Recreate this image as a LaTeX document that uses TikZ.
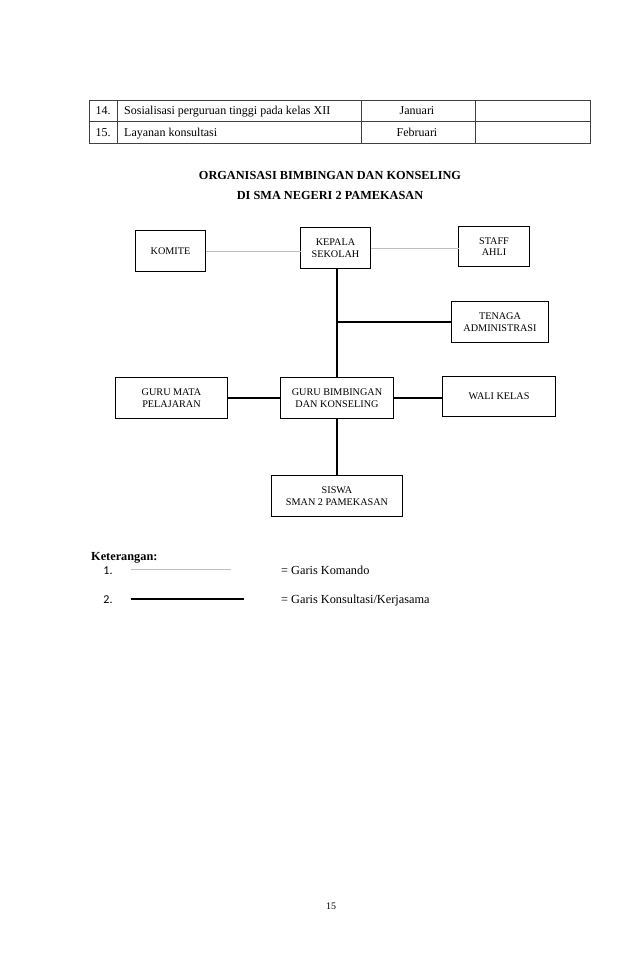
\documentclass[tikz,border=0pt]{standalone}
\usepackage{fontspec}
\setmainfont{Liberation Serif}
\newfontfamily\calibri{Carlito}
\usetikzlibrary{calc,positioning}
\newdimen\hdim
\hdim=41pt
\tikzstyle{box}=[
  draw=black,
  font={\fontsize{10.2}{11.6}\selectfont},
  inner sep=0pt,
  minimum height=\hdim,
  outer sep=0pt,
  rectangle,
  align=center,
  line width=1pt,
]
\tikzstyle{komando}=[
  draw=black!25,
  line width=1pt,
]
\tikzstyle{konsultasi}=[
  draw=black,
  line width=2pt,
]
\tikzstyle{grid}=[
  draw=black!75,
  line width=1pt,
]
\tikzstyle{cell}=[
  font={\fontsize{12}{14}\selectfont},
  inner sep=0pt,
  anchor=base,
]
\tikzset{
  x=1pt,
  y=-1pt,
}
\begin{document}
\begin{tikzpicture}
      \useasboundingbox (0,0) rectangle (638,974);
      \fill [white] (0,0) rectangle (638,974);
      %% table
      \draw [grid] (89.5,100.5) rectangle (590.5,143.5);
      \draw [grid] (89.5,121.5) -- (590.5,121.5);
      \foreach \x in {117.5,361.5,475.5}
        \draw [grid] (\x,100.5) -- (\x,143.5);
      \node (no14) [cell] at (103,114) {14.};
      \node (keg14) [cell, anchor=base west] at (124,114) {Sosialisasi perguruan tinggi pada kelas XII};
      \node (bln14) [cell] at (417,114) {Januari};
      \node (no15) [cell] at (103,136.5) {15.};
      \node (keg15) [cell, anchor=base west] at (124,136.5) {Layanan konsultasi};
      \node (bln15) [cell] at (417,136.5) {Februari};
      %% title
      \node (judul) [cell, font={\fontsize{12.3}{14}\selectfont\bfseries}] at (330,179) {ORGANISASI BIMBINGAN DAN KONSELING};
      \node (sekolah) [cell, font={\fontsize{12.3}{14}\selectfont\bfseries}] at (330,199) {DI SMA NEGERI 2 PAMEKASAN};
      %% chart
      \node (komite) [box, minimum width=70pt] at (170.5,251) {KOMITE};
      \node (kepala) [box, minimum width=70pt] at (335.5,248) {KEPALA\\SEKOLAH};
      \node (staff) [box, minimum width=71pt, minimum height=40pt] at (494,246.5) {STAFF\\AHLI};
      \node (tenaga) [box, minimum width=97pt] at (500,322) {TENAGA\\ADMINISTRASI};
      \node (gurumapel) [box, minimum width=112pt] at (171.5,398) {GURU MATA\\PELAJARAN};
      \node (gurubk) [box, minimum width=113pt] at (337,398) {GURU BIMBINGAN\\DAN KONSELING};
      \node (walikelas) [box, minimum width=113pt, minimum height=40pt] at (499,396.5) {WALI KELAS};
      \node (siswa) [box, minimum width=131pt] at (337,496) {SISWA\\SMAN 2 PAMEKASAN};
      %%
      \draw [komando] (komite.east) -- (komite.east -| kepala.west);
      \draw [komando] (kepala.east) -- (kepala.east -| staff.west);
      \coordinate (trunk) at (gurubk.north |- tenaga.west);
      \draw [konsultasi] (kepala.south -| gurubk.north) -- (gurubk.north);
      \draw [konsultasi] (trunk) -- (tenaga.west);
      \draw [konsultasi] (gurumapel.east) -- (gurumapel.east -| gurubk.west);
      \draw [konsultasi] (gurubk.east) -- (gurubk.east -| walikelas.west);
      \draw [konsultasi] (gurubk.south) -- (gurubk.south |- siswa.north);
      %% legend
      \node (ket) [cell, anchor=base west, font={\fontsize{12.3}{14}\selectfont\bfseries}] at (91,560) {Keterangan:};
      \node (satu) [cell, font={\calibri\fontsize{12}{14}\selectfont}] at (108,574) {1.};
      \node (dua) [cell, font={\calibri\fontsize{12}{14}\selectfont}] at (108,603.5) {2.};
      \coordinate (k1a) at (130.7,569.5);
      \coordinate (k1b) at (230.7,569.5);
      \coordinate (k2a) at (130.7,599);
      \coordinate (k2b) at (244,599);
      \draw [komando] (k1a) -- (k1b);
      \draw [konsultasi] (k2a) -- (k2b);
      \node (garis1) [cell, anchor=base west, font={\fontsize{12.3}{14}\selectfont}] at (281,574) {= Garis Komando};
      \node (garis2) [cell, anchor=base west, font={\fontsize{12.3}{14}\selectfont}] at (281,603.5) {= Garis Konsultasi/Kerjasama};
      %% page number
      \node (hal) [cell, font={\fontsize{10}{12}\selectfont}] at (331,909) {15};
    \end{tikzpicture}
\end{document}
